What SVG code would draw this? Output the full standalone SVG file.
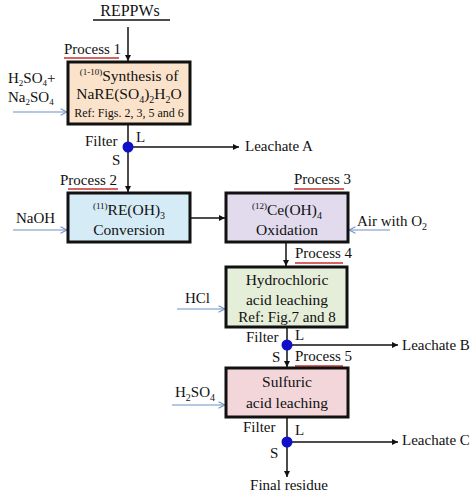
<svg xmlns="http://www.w3.org/2000/svg" width="474" height="494" viewBox="0 0 474 494">
<style>
text{font-family:"Liberation Serif","Times New Roman",serif;fill:#111;font-size:15px}
.t{font-size:15.5px;text-anchor:middle}
.ref{font-size:12px;text-anchor:middle}
.box{stroke:#111;stroke-width:3}
.ln{stroke:#111;stroke-width:1.5;fill:none}
.bl{stroke:#6f8fc4;stroke-width:1.2;fill:none}
.ul{stroke:#c8302c;stroke-width:1.6}
.dot{fill:#1010c8}
</style>
<defs>
<marker id="ah" viewBox="0 0 10 10" refX="10" refY="5" markerWidth="8" markerHeight="6" markerUnits="userSpaceOnUse" orient="auto"><path d="M0,0 L10,5 L0,10 z" fill="#111"/></marker>
<marker id="bh" viewBox="0 0 10 10" refX="9" refY="5" markerWidth="8" markerHeight="8" markerUnits="userSpaceOnUse" orient="auto"><path d="M1,1 L9,5 L1,9" fill="none" stroke="#6f8fc4" stroke-width="1.3"/></marker>
</defs>

<g id="connectors">
<line class="ln" x1="128" y1="27" x2="128" y2="61" marker-end="url(#ah)"/>
<line class="ln" x1="128" y1="124" x2="128" y2="192" marker-end="url(#ah)"/>
<line class="ln" x1="128" y1="147" x2="239" y2="147" marker-end="url(#ah)"/>
<line class="ln" x1="190" y1="218" x2="225" y2="218" marker-end="url(#ah)"/>
<line class="ln" x1="286" y1="242" x2="286" y2="266" marker-end="url(#ah)"/>
<line class="ln" x1="287" y1="327" x2="287" y2="367" marker-end="url(#ah)"/>
<line class="ln" x1="287" y1="345" x2="398" y2="345" marker-end="url(#ah)"/>
<line class="ln" x1="287" y1="417" x2="287" y2="477" marker-end="url(#ah)"/>
<line class="ln" x1="287" y1="442" x2="398" y2="442" marker-end="url(#ah)"/>
<line class="bl" x1="13" y1="112" x2="67" y2="112" marker-end="url(#bh)"/>
<line class="bl" x1="13" y1="230" x2="67" y2="230" marker-end="url(#bh)"/>
<line class="bl" x1="390" y1="230" x2="349" y2="230" marker-end="url(#bh)"/>
<line class="bl" x1="177" y1="309" x2="225" y2="309" marker-end="url(#bh)"/>
<line class="bl" x1="172" y1="405" x2="225" y2="405" marker-end="url(#bh)"/>
<circle class="dot" cx="128" cy="147" r="5.5"/>
<circle class="dot" cx="287" cy="345" r="5.5"/>
<circle class="dot" cx="287" cy="442" r="5.5"/>
</g>

<g id="input">
<text x="130" y="16" style="font-size:16px;text-anchor:middle">REPPWs</text>
<line x1="93" y1="20" x2="170" y2="20" stroke="#111" stroke-width="1.5"/>
</g>

<g id="process1">
<text x="64" y="54">Process 1</text>
<line class="ul" x1="64" y1="58" x2="119" y2="58"/>
<rect class="box" x="68" y="62" width="122" height="62" fill="#fbe3cb"/>
<text class="t" x="129" y="81"><tspan font-size="9" dy="-6">(1-10)</tspan><tspan dy="6">Synthesis of</tspan></text>
<text class="t" x="129" y="99">NaRE(SO<tspan font-size="10" dy="4">4</tspan><tspan dy="-4">)</tspan><tspan font-size="10" dy="4">2</tspan><tspan dy="-4">H</tspan><tspan font-size="10" dy="4">2</tspan><tspan dy="-4">O</tspan></text>
<text class="ref" x="129" y="117">Ref: Figs. 2, 3, 5 and 6</text>
</g>

<g id="reagent1">
<text x="8" y="83">H<tspan font-size="9" dy="3">2</tspan><tspan dy="-3">SO</tspan><tspan font-size="9" dy="3">4</tspan><tspan dy="-3">+</tspan></text>
<text x="8" y="102">Na<tspan font-size="9" dy="3">2</tspan><tspan dy="-3">SO</tspan><tspan font-size="9" dy="3">4</tspan></text>
</g>

<g id="filter1">
<text x="85" y="146">Filter</text>
<text x="136" y="142">L</text>
<text x="112" y="165">S</text>
<text x="245" y="151">Leachate A</text>
</g>

<g id="process2">
<text x="60" y="185">Process 2</text>
<line class="ul" x1="68" y1="189" x2="118" y2="189"/>
<rect class="box" x="68" y="193" width="122" height="49" fill="#d5ebf6"/>
<text class="t" x="129" y="215"><tspan font-size="9" dy="-6">(11)</tspan><tspan dy="6">RE(OH)</tspan><tspan font-size="10" dy="4">3</tspan></text>
<text class="t" x="129" y="235">Conversion</text>
<text x="16" y="223">NaOH</text>
</g>

<g id="process3">
<text x="294" y="184">Process 3</text>
<line class="ul" x1="294" y1="189" x2="344" y2="189"/>
<rect class="box" x="226" y="193" width="122" height="49" fill="#e2dbee"/>
<text class="t" x="287" y="215"><tspan font-size="9" dy="-6">(12)</tspan><tspan dy="6">Ce(OH)</tspan><tspan font-size="10" dy="4">4</tspan></text>
<text class="t" x="287" y="235">Oxidation</text>
<text x="357" y="226">Air with O<tspan font-size="10" dy="4">2</tspan></text>
</g>

<g id="process4">
<text x="295" y="258">Process 4</text>
<line class="ul" x1="295" y1="263" x2="343" y2="263"/>
<rect class="box" x="226" y="267" width="121" height="60" fill="#e5eed8"/>
<text class="t" x="287" y="285">Hydrochloric</text>
<text class="t" x="287" y="305">acid leaching</text>
<text class="t" x="287" y="322" style="font-size:15px">Ref: Fig.7 and 8</text>
<text x="185" y="303">HCl</text>
</g>

<g id="filter2">
<text x="246" y="342">Filter</text>
<text x="295" y="340">L</text>
<text x="272" y="362">S</text>
<text x="402" y="350">Leachate B</text>
</g>

<g id="process5">
<text x="295" y="361">Process 5</text>
<line class="ul" x1="295" y1="366" x2="343" y2="366"/>
<rect class="box" x="226" y="368" width="122" height="49" fill="#f3d6da"/>
<text class="t" x="287" y="387">Sulfuric</text>
<text class="t" x="287" y="408">acid leaching</text>
<text x="175" y="397">H<tspan font-size="10" dy="4">2</tspan><tspan dy="-4">SO</tspan><tspan font-size="10" dy="4">4</tspan></text>
</g>

<g id="filter3">
<text x="243" y="432">Filter</text>
<text x="295" y="435">L</text>
<text x="270" y="458">S</text>
<text x="402" y="445">Leachate C</text>
<text x="289" y="490" style="text-anchor:middle">Final residue</text>
</g>
</svg>
